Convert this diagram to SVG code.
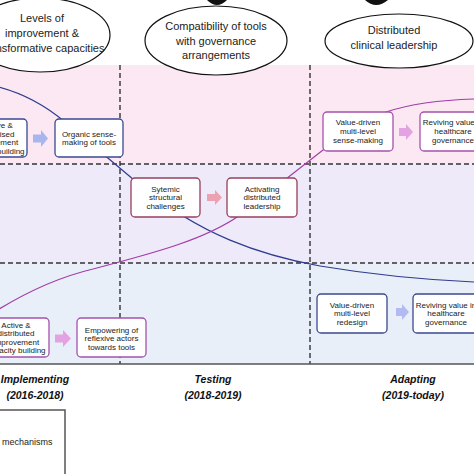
<svg xmlns="http://www.w3.org/2000/svg" width="474" height="474" viewBox="0 0 474 474">
<style>
.t{font-family:"Liberation Sans",Arial,sans-serif;font-size:8px;fill:#222;text-anchor:middle}
.e{font-family:"Liberation Sans",Arial,sans-serif;font-size:11px;fill:#222;text-anchor:middle}
.p{font-family:"Liberation Sans",Arial,sans-serif;font-size:10.5px;font-weight:bold;font-style:italic;fill:#111;text-anchor:middle}
.box{fill:#fff;stroke-width:1.3}
.bl{stroke:#3a4a90}
.mg{stroke:#a552ad}
.rd{stroke:#963f5c}
.dash{stroke:#333;stroke-width:1.4;stroke-dasharray:5 3;fill:none}
.ell{fill:#fff;stroke:#111;stroke-width:1.2}
</style>
<rect x="0" y="0" width="474" height="474" fill="#fff"/>
<g id="bands">
<rect x="0" y="65" width="474" height="99" fill="#fbe8f3"/>
<rect x="0" y="164" width="474" height="99" fill="#eeeaf9"/>
<rect x="0" y="263" width="474" height="101" fill="#e8eff8"/>
<line x1="0" y1="164" x2="474" y2="164" class="dash"/>
<line x1="0" y1="263" x2="474" y2="263" class="dash"/>
<line x1="120" y1="65" x2="120" y2="364" class="dash"/>
<line x1="310" y1="65" x2="310" y2="364" class="dash"/>
<line x1="0" y1="364" x2="474" y2="364" stroke="#555" stroke-width="1.5"/>
</g>
<g id="headers">
<path d="M33,0 Q47,7 62,0 Z" fill="#111"/>
<path d="M207,0 Q217,10 227,0 Z" fill="#111"/>
<path d="M365,0 Q376,10 388,0 Z" fill="#111"/>
<g id="h1"><ellipse cx="40" cy="35" rx="70" ry="37" class="ell"/>
<text class="e" x="42" y="22">Levels of</text>
<text class="e" x="42" y="37">improvement &amp;</text>
<text class="e" x="42" y="52">Transformative capacities</text></g>
<g id="h2"><ellipse cx="216" cy="40.5" rx="71" ry="34.5" class="ell"/>
<text class="e" x="216" y="30">Compatibility of tools</text>
<text class="e" x="216" y="45">with governance</text>
<text class="e" x="216" y="59">arrangements</text></g>
<g id="h3"><ellipse cx="399" cy="41" rx="74" ry="27" class="ell"/>
<text class="e" x="394" y="34">Distributed</text>
<text class="e" x="394" y="49">clinical leadership</text></g>
</g>
<g id="connectors" fill="none" stroke-width="1.2">
<path d="M-5,86 C20,92 45,105 65,122 L140,185 C200,235 260,255 320,266 C380,276 430,280 474,282" stroke="#2f3c8f"/>
<path d="M-4,311 C25,293 55,278 93,269 C150,254 205,240 240,215 L323,150 L386,112 C410,104 440,100 474,99" stroke="#a23ca8"/>
</g>
<g id="arrows">
<polygon points="33,134.5 41,134.5 41,130 48,138.5 41,147 41,142.5 33,142.5" fill="#a9b5ef"/>
<polygon points="207,194 215,194 215,190 222,197.5 215,205 215,201 207,201" fill="#eba3b3"/>
<polygon points="399,128 406,128 406,124 413,132 406,140 406,136 399,136" fill="#e3a3e3"/>
<polygon points="55,334.5 63,334.5 63,330 71,338.5 63,347 63,342.5 55,342.5" fill="#e3a3e3"/>
<polygon points="396,308 402,308 402,304 409,312 402,320 402,316 396,316" fill="#b3baf2"/>
</g>
<g id="n1"><rect x="-44" y="119" width="71" height="38" rx="4" class="box bl"/>
<text class="t" x="-5" y="128">Passive &amp;</text>
<text class="t" x="-5" y="136.5">centralised</text>
<text class="t" x="-5" y="145">improvement</text>
<text class="t" x="-5" y="153.5">capacity building</text></g>
<g id="n2"><rect x="55" y="119" width="68" height="38" rx="4" class="box bl"/>
<text class="t" x="89" y="136.8">Organic sense-</text>
<text class="t" x="89" y="145.3">making of tools</text></g>
<g id="n3"><rect x="323" y="112" width="70" height="39" rx="4" class="box mg"/>
<text class="t" x="358" y="125.3">Value-driven</text>
<text class="t" x="358" y="134.3">multi-level</text>
<text class="t" x="358" y="143.3">sense-making</text></g>
<g id="n4"><rect x="420" y="112" width="68" height="39" rx="4" class="box mg"/>
<text class="t" x="453" y="125.3">Reviving value in</text>
<text class="t" x="453" y="134.3">healthcare</text>
<text class="t" x="453" y="143.3">governance</text></g>
<g id="n5"><rect x="131" y="178" width="69" height="39" rx="4" class="box rd"/>
<text class="t" x="165.5" y="191.8">Sytemic</text>
<text class="t" x="165.5" y="200.3">structural</text>
<text class="t" x="165.5" y="208.8">challenges</text></g>
<g id="n6"><rect x="227" y="178" width="70" height="39" rx="4" class="box rd"/>
<text class="t" x="262" y="191.8">Activating</text>
<text class="t" x="262" y="200.3">distributed</text>
<text class="t" x="262" y="208.8">leadership</text></g>
<g id="n7"><rect x="-19" y="318" width="68" height="39" rx="4" class="box mg"/>
<text class="t" x="16" y="327.8">Active &amp;</text>
<text class="t" x="16" y="336.3">distributed</text>
<text class="t" x="16" y="344.8">improvement</text>
<text class="t" x="16" y="353.3">capacity building</text></g>
<g id="n8"><rect x="77" y="318" width="69" height="39" rx="4" class="box mg"/>
<text class="t" x="111.5" y="332.8">Empowering of</text>
<text class="t" x="111.5" y="341.3">reflexive actors</text>
<text class="t" x="111.5" y="349.8">towards tools</text></g>
<g id="n9"><rect x="317" y="294" width="70" height="39" rx="4" class="box bl"/>
<text class="t" x="352" y="307.8">Value-driven</text>
<text class="t" x="352" y="316.3">multi-level</text>
<text class="t" x="352" y="324.8">redesign</text></g>
<g id="n10"><rect x="413" y="294" width="68" height="39" rx="4" class="box bl"/>
<text class="t" x="446" y="307.8">Reviving value in</text>
<text class="t" x="446" y="316.3">healthcare</text>
<text class="t" x="446" y="324.8">governance</text></g>
<g id="phases">
<text class="p" x="35" y="383">Implementing</text>
<text class="p" x="35" y="399">(2016-2018)</text>
<text class="p" x="213" y="383">Testing</text>
<text class="p" x="213" y="399">(2018-2019)</text>
<text class="p" x="413" y="383">Adapting</text>
<text class="p" x="413" y="399">(2019-today)</text>
</g>
<g id="legend">
<rect x="-2" y="410" width="67" height="66" fill="#fff" stroke="#555" stroke-width="1.5"/>
<text x="2" y="445" font-family="Liberation Sans, Arial, sans-serif" font-size="9" fill="#222">mechanisms</text>
</g>
</svg>
